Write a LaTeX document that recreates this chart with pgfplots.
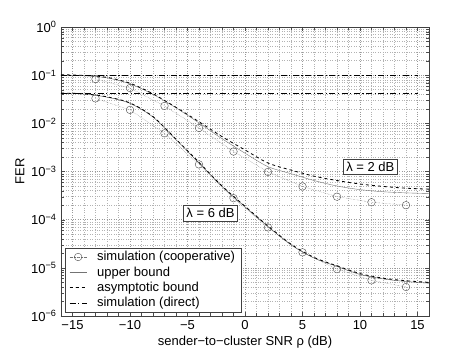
\documentclass[border=0pt]{standalone}
\usepackage{fontspec}
\setmainfont{Liberation Sans}
\usepackage{pgfplots}
\pgfplotsset{compat=1.18}
\pgfplotstableread{
x y
-13 0.083
-10 0.054
-7 0.023
-4 0.008
-1 0.0026
2 0.00098
5 0.00049
8 0.0003
11 0.00023
14 0.0002
}\simtwo
\pgfplotstableread{
x y
-13 0.033
-10 0.019
-7 0.0062
-4 0.0014
-1 0.00028
2 6.9e-5
5 2.1e-5
8 9.4e-6
11 5.5e-6
14 4.0e-6
}\simsix
\pgfplotstableread{
x y
-16 0.100
-14 0.097
-12 0.088
-10 0.066
-8 0.040
-6 0.021
-4 0.0102
-2 0.0048
0 0.0024
2 0.00126
4 0.00090
6 0.00065
8 0.00050
10 0.00042
12 0.00038
14 0.00036
16 0.00035
}\ubtwo
\pgfplotstableread{
x y
-16 0.102
-14 0.099
-12 0.090
-10 0.068
-8 0.041
-6 0.0215
-4 0.0108
-2 0.0053
0 0.0028
2 0.0015
4 0.00107
6 0.00080
8 0.00065
10 0.00055
12 0.00049
14 0.00045
16 0.00043
}\astwo
\pgfplotstableread{
x y
-16 0.042
-14 0.0405
-12 0.035
-10 0.026
-8 0.0135
-6 0.0046
-4 0.0015
-2 0.00049
0 0.000185
2 7.2e-5
4 3.0e-5
6 1.6e-5
8 1.07e-5
10 7.3e-6
12 5.9e-6
14 5.2e-6
16 4.8e-6
}\ubsix
\pgfplotstableread{
x y
-16 0.0425
-14 0.041
-12 0.0355
-10 0.0265
-8 0.0138
-6 0.0047
-4 0.00155
-2 0.00050
0 0.00019
2 7.4e-5
4 3.1e-5
6 1.65e-5
8 1.1e-5
10 7.6e-6
12 6.1e-6
14 5.4e-6
16 5.0e-6
}\assix
\pgfplotstableread{
x y
-16 0.1
15 0.1
}\dirtwo
\pgfplotstableread{
x y
-16 0.041
15 0.041
}\dirsix
\tikzset{mydashdot/.style={dash pattern=on 6pt off 2.5pt on 1.2pt off 2.5pt}}
\begin{document}
\fontsize{13}{15}\selectfont
\begin{tikzpicture}
\path (-61pt,-39pt) rectangle (413pt,316pt);
\begin{axis}[
  at={(0,0)}, anchor=south west,
  scale only axis, width=368pt, height=289pt,
  xmin=-16, xmax=16, ymode=log, ymin=1e-6, ymax=1,
  xtick={-15,-10,-5,0,5,10,15},
  xticklabels={−15,−10,−5,0,5,10,15},
  ytick={1e-6,1e-5,1e-4,1e-3,1e-2,1e-1,1},
  yticklabels={10\textsuperscript{−6},10\textsuperscript{−5},10\textsuperscript{−4},10\textsuperscript{−3},10\textsuperscript{−2},10\textsuperscript{−1},10\textsuperscript{0}},
  minor x tick num=4,
  grid=both,
  major grid style={dotted, black!40},
  minor grid style={dotted, black!30},
  tick align=inside,
  tick style={black!70},
  axis line style={black!75, line width=0.8pt},
  xlabel={sender−to−cluster SNR ρ (dB)},
  ylabel={FER},
  xlabel style={yshift=3pt},
  ylabel style={yshift=-2pt},
  ticklabel style={font=\fontsize{13}{15}\selectfont},
  label style={font=\fontsize{13}{15}\selectfont},
  legend cell align=left,
  legend style={at={(rel axis cs:0,0)}, anchor=south west, xshift=4pt, yshift=4pt,
    draw=black!75, font=\fontsize{13}{15}\selectfont, row sep=0pt,
    column sep=8pt, inner xsep=4pt, inner ysep=1pt},
]
\addplot[black!55, densely dotted, mark=o, mark size=3.8pt, mark options={solid, black!70}] table {\simtwo};
\addlegendentry{simulation (cooperative)}
\addplot[black!55, thin, smooth] table {\ubtwo};
\addlegendentry{upper bound}
\addplot[black, dashed, thick, smooth] table {\astwo};
\addlegendentry{asymptotic bound}
\addplot[black, mydashdot, thick] table {\dirtwo};
\addlegendentry{simulation (direct)}
\addplot[black!55, densely dotted, mark=o, mark size=3.8pt, mark options={solid, black!70}, forget plot] table {\simsix};
\addplot[black!70, thin, smooth, forget plot] table {\ubsix};
\addplot[black, dashed, thick, smooth, forget plot] table {\assix};
\addplot[black, mydashdot, thick, forget plot] table {\dirsix};
\node[draw=black!75, fill=white, inner sep=3pt] at (axis cs:10.9,1.26e-3) {λ = 2 dB};
\node[draw=black!75, fill=white, inner sep=3pt] at (axis cs:-3.0,1.36e-4) {λ = 6 dB};
\end{axis}
\end{tikzpicture}
\end{document}
